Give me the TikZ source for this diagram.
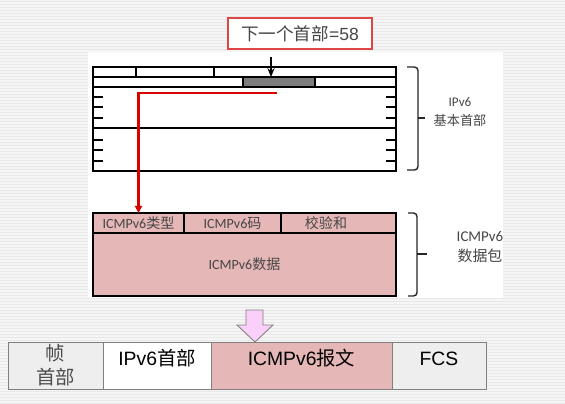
\documentclass[tikz,border=0pt]{standalone}
\usepackage{fontspec}
\setmainfont{Liberation Sans}
\newfontfamily\cjk{Noto Sans CJK SC}
\newfontfamily\figfont{Carlito}
\usetikzlibrary{positioning, calc, arrows.meta}
\definecolor{pinkfill}{RGB}{230,183,183}
\definecolor{lilac}{RGB}{250,208,250}
\definecolor{cellgray}{RGB}{238,238,238}
\definecolor{fieldgray}{RGB}{125,125,125}
\definecolor{txtgray}{RGB}{70,70,70}
\definecolor{boxred}{RGB}{222,70,70}
\definecolor{stripe}{RGB}{232,232,232}
\tikzstyle{hdr} = [draw, line width=1.1pt]
\tikzstyle{lblbox} = [rectangle, draw=boxred, fill=white, line width=0.6pt, inner sep=0pt, outer sep=0pt, text=txtgray, font=\fontsize{10}{12}\selectfont]
\tikzstyle{nhfield} = [rectangle, draw, fill=fieldgray, line width=1.1pt, inner sep=0pt, outer sep=0pt]
\tikzstyle{cell} = [rectangle, draw, fill=pinkfill, line width=1.1pt, inner sep=0pt, outer sep=0pt, text=txtgray, font=\figfont\fontsize{8}{9}\selectfont]
\tikzstyle{rowcell} = [rectangle, draw=gray, line width=0.5pt, inner sep=0pt, outer sep=0pt]
\tikzstyle{rowtext} = [font=\fontsize{11}{13.6}\selectfont, align=center]
\tikzstyle{brace} = [draw=black!85, line width=0.8pt, rounded corners=2pt]
\tikzstyle{sidetext} = [text=txtgray, align=center, font=\figfont\fontsize{8}{11}\selectfont]
\tikzstyle{redline} = [draw=red!85!black, line width=1.3pt, -{Triangle[length=4pt, width=4pt]}]

\begin{document}
\begin{tikzpicture}[x=0.02cm, y=-0.02cm]
    \useasboundingbox (0,0) rectangle (565,403);
    % slide background
    \fill[white!96!black] (0,0) rectangle (565,403);
    \foreach \y in {1,4,...,403}
        \draw[stripe, line width=0.5pt] (0,\y) -- (565,\y);
    \fill[white] (88,52) rectangle (503,298);

    % next header label
    \node [lblbox, minimum width=2.88cm, minimum height=0.62cm] (nextbox) at (300,33.5) {{\cjk 下一个首部}=58};

    % IPv6 basic header
    \draw [hdr] (93,67) rectangle (396,171);
    \draw [hdr] (93,77) -- (396,77);
    \draw [hdr] (93,87) -- (396,87);
    \draw [hdr] (93,128) -- (396,128);
    \draw [hdr] (136,67) -- (136,77);
    \draw [hdr] (214,67) -- (214,77);
    \foreach \y in {97,107,118,140,150,161} {
        \draw [hdr] (93,\y) -- (103,\y);
        \draw [hdr] (396,\y) -- (386,\y);
    }
    \node [nhfield, minimum width=1.44cm, minimum height=0.2cm] (nextfield) at (279,82) {};
    \coordinate (arrowtop) at (271,57);
    \draw [line width=0.9pt, -{Stealth[length=5pt, width=4pt]}] (arrowtop) -- (arrowtop |- nextfield.north);

    % ICMPv6 packet
    \node [cell, minimum width=1.82cm, minimum height=0.4cm] (typecell) at (138.5,223) {ICMPv6{\cjk 类型}};
    \node [cell, minimum width=1.94cm, minimum height=0.4cm] (codecell) at (232.5,223) {ICMPv6{\cjk 码}};
    \node [cell, minimum width=2.3cm, minimum height=0.4cm] (sumcell) at (338.5,223) {};
    \node [cell, draw=none, fill=none] (sumtxt) at (326,223) {\cjk 校验和};
    \node [cell, minimum width=6.06cm, minimum height=1.26cm] (datacell) at (244.5,264.5) {ICMPv6{\cjk 数据}};

    \coordinate (redstart) at (277,93);
    \path [redline] (redstart) -| (typecell.north);

    % braces
    \draw [brace] (407,67) -- (418,67) -- (418,170) -- (407,170);
    \draw [brace] (418,118) -- (425,118);
    \node [sidetext, font=\figfont\fontsize{7.5}{11}\selectfont] (hdrlabel) at (460,112) {IPv6\\{\cjk 基本首部}};
    \draw [brace] (408,213) -- (417,213) -- (417,296) -- (408,296);
    \draw [brace] (417,254) -- (427,254);
    \node [sidetext, font=\figfont\fontsize{8.5}{11.5}\selectfont] (pktlabel) at (480,247) {ICMPv6\\{\cjk 数据包}};

    % encapsulation arrow
    \draw [draw=gray, fill=lilac, line width=0.5pt] (246,310) -- (263,310) -- (263,325) -- (273,325) -- (255,342) -- (237,325) -- (246,325) -- cycle;

    % frame
    \node [rowcell, fill=cellgray, minimum width=1.9cm, minimum height=0.94cm] (framecell) at (55.5,365.5) {};
    \node [rowcell, fill=white, minimum width=2.16cm, minimum height=0.94cm] (ipcell) at (157,365.5) {};
    \node [rowcell, fill=pinkfill, minimum width=3.62cm, minimum height=0.94cm] (icmpcell) at (301.5,365.5) {};
    \node [rowcell, fill=cellgray, minimum width=1.88cm, minimum height=0.94cm] (fcscell) at (439,365.5) {};
    \node [rowtext, text=black!70] (frametxt) at (framecell.center) {{\cjk 帧}\\{\cjk 首部}};
    \node [rowtext] (iptxt) at ($(ipcell.center)+(0,-7)$) {IPv6{\cjk 首部}};
    \node [rowtext] (icmptxt) at ($(icmpcell.center)+(0,-7)$) {ICMPv6{\cjk 报文}};
    \node [rowtext] (fcstxt) at ($(fcscell.center)+(0,-7)$) {FCS};
\end{tikzpicture}
\end{document}
